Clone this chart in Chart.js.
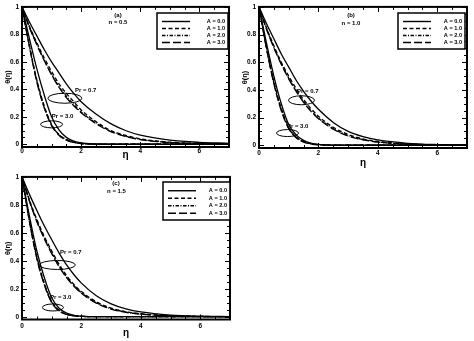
<!DOCTYPE html>
<html>
<head>
<meta charset="utf-8">
<script src="https://cdn.jsdelivr.net/npm/chart.js@4.4.1/dist/chart.umd.min.js"></script>
<style>
  html, body { margin: 0; padding: 0; background: #fff; }
  #page { position: relative; width: 474px; height: 341px; background: #fff; }
  .panel { position: absolute; width: 237px; height: 170px; }
</style>
</head>
<body>
<div id="page">
  <div class="panel" style="left:0;top:0"><canvas id="chartA"></canvas></div>
  <div class="panel" style="left:237px;top:0"><canvas id="chartB"></canvas></div>
  <div class="panel" style="left:0;top:170px;height:171px"><canvas id="chartC"></canvas></div>
</div>
<script>
// Abscisses communes (eta)
const etaValues = [0, 0.25, 0.5, 0.75, 1, 1.25, 1.5, 1.75, 2, 2.5, 3, 3.5, 4, 5, 6, 7];
const aLabels = ['A = 0.0', 'A = 1.0', 'A = 2.0', 'A = 3.0'];
const xTickValues = [0, 2, 4, 6];
const yTickValues = [0, 0.2, 0.4, 0.6, 0.8, 1];

// Profils de température theta(eta), une ligne par valeur de A
const thetaN05Pr07 = [
  [1, 0.89, 0.79, 0.69, 0.60, 0.52, 0.44, 0.37, 0.31, 0.22, 0.15, 0.10, 0.066, 0.03, 0.014, 0.007],
  [1, 0.86, 0.74, 0.63, 0.53, 0.44, 0.37, 0.31, 0.25, 0.165, 0.10, 0.065, 0.04, 0.015, 0.006, 0.002],
  [1, 0.855, 0.73, 0.615, 0.51, 0.42, 0.35, 0.29, 0.235, 0.155, 0.095, 0.06, 0.036, 0.013, 0.005, 0.002],
  [1, 0.85, 0.725, 0.61, 0.505, 0.415, 0.34, 0.28, 0.23, 0.15, 0.092, 0.057, 0.034, 0.012, 0.004, 0.001]
];
const thetaN05Pr3 = [
  [1, 0.77, 0.55, 0.36, 0.20, 0.105, 0.05, 0.022, 0.009, 0.002, 0, 0, 0, 0, 0, 0],
  [1, 0.72, 0.47, 0.28, 0.145, 0.072, 0.034, 0.015, 0.006, 0.001, 0, 0, 0, 0, 0, 0],
  [1, 0.715, 0.462, 0.272, 0.14, 0.069, 0.032, 0.014, 0.005, 0.001, 0, 0, 0, 0, 0, 0],
  [1, 0.71, 0.455, 0.267, 0.136, 0.066, 0.03, 0.013, 0.005, 0.001, 0, 0, 0, 0, 0, 0]
];
const thetaN10Pr07 = [
  [1, 0.88, 0.77, 0.66, 0.565, 0.47, 0.39, 0.32, 0.26, 0.165, 0.10, 0.062, 0.038, 0.014, 0.005, 0.002],
  [1, 0.85, 0.72, 0.60, 0.50, 0.41, 0.33, 0.265, 0.21, 0.13, 0.078, 0.046, 0.027, 0.009, 0.003, 0.001],
  [1, 0.845, 0.71, 0.59, 0.485, 0.395, 0.315, 0.25, 0.197, 0.12, 0.07, 0.041, 0.024, 0.008, 0.002, 0.001],
  [1, 0.84, 0.705, 0.585, 0.48, 0.39, 0.31, 0.245, 0.192, 0.116, 0.067, 0.039, 0.022, 0.007, 0.002, 0]
];
const thetaN10Pr3 = [
  [1, 0.74, 0.50, 0.30, 0.15, 0.075, 0.035, 0.015, 0.006, 0.001, 0, 0, 0, 0, 0, 0],
  [1, 0.71, 0.46, 0.265, 0.13, 0.06, 0.027, 0.011, 0.004, 0.001, 0, 0, 0, 0, 0, 0],
  [1, 0.705, 0.45, 0.257, 0.125, 0.057, 0.025, 0.01, 0.004, 0, 0, 0, 0, 0, 0, 0],
  [1, 0.70, 0.445, 0.25, 0.12, 0.054, 0.023, 0.009, 0.003, 0, 0, 0, 0, 0, 0, 0]
];
const thetaN15Pr07 = [
  [1, 0.875, 0.76, 0.65, 0.55, 0.455, 0.37, 0.30, 0.24, 0.15, 0.092, 0.056, 0.034, 0.012, 0.004, 0.001],
  [1, 0.835, 0.695, 0.575, 0.47, 0.375, 0.295, 0.23, 0.18, 0.107, 0.062, 0.036, 0.021, 0.007, 0.002, 0],
  [1, 0.83, 0.685, 0.565, 0.457, 0.363, 0.285, 0.222, 0.172, 0.10, 0.057, 0.033, 0.019, 0.006, 0.002, 0],
  [1, 0.825, 0.68, 0.558, 0.45, 0.357, 0.28, 0.217, 0.167, 0.097, 0.055, 0.031, 0.018, 0.005, 0.001, 0]
];
const thetaN15Pr3 = [
  [1, 0.72, 0.47, 0.28, 0.135, 0.06, 0.025, 0.01, 0.004, 0, 0, 0, 0, 0, 0, 0],
  [1, 0.69, 0.43, 0.24, 0.11, 0.046, 0.018, 0.007, 0.003, 0, 0, 0, 0, 0, 0, 0],
  [1, 0.685, 0.42, 0.233, 0.105, 0.043, 0.017, 0.006, 0.002, 0, 0, 0, 0, 0, 0, 0],
  [1, 0.68, 0.415, 0.228, 0.10, 0.041, 0.016, 0.006, 0.002, 0, 0, 0, 0, 0, 0, 0]
];

// Styles de trait : plein, tirets, tiret-point, tirets longs
const dashStyles = [[], [4, 2.5], [3.5, 1.5, 1, 1.5], [8, 3]];
const FONT = '"Liberation Sans", Arial, sans-serif';

const panels = [
  {
    id: 'chartA', tag: '(a)', nText: 'n = 0.5', pr07: thetaN05Pr07, pr3: thetaN05Pr3,
    area: { top: 5, right: 8, bottom: 147 }, canvasH: 170, tickPad: 0, titlePad: 9,
    tagPos: { x: 118, y: 15 }, nPos: { x: 118, y: 22.5 },
    legendBox: { x: 157, y: 13, w: 71, h: 36 },
    ring07: { x: 1.45, y: 0.335, rx: 17, ry: 5 }, text07: { x: 1.79, y: 0.39 },
    ring3: { x: 1.0, y: 0.145, rx: 11, ry: 3.5 }, text3: { x: 1.01, y: 0.205 }
  },
  {
    id: 'chartB', tag: '(b)', nText: 'n = 1.0', pr07: thetaN10Pr07, pr3: thetaN10Pr3,
    area: { top: 5, right: 7, bottom: 148 }, canvasH: 170, tickPad: 1, titlePad: 1,
    tagPos: { x: 114, y: 15 }, nPos: { x: 114, y: 23 },
    legendBox: { x: 161, y: 13, w: 67, h: 36 },
    ring07: { x: 1.43, y: 0.325, rx: 13, ry: 4.5 }, text07: { x: 1.28, y: 0.39 },
    ring3: { x: 0.96, y: 0.088, rx: 11, ry: 3.5 }, text3: { x: 0.94, y: 0.136 }
  },
  {
    id: 'chartC', tag: '(c)', nText: 'n = 1.5', pr07: thetaN15Pr07, pr3: thetaN15Pr3,
    area: { top: 5, right: 7, bottom: 149.5 }, canvasH: 171, tickPad: 3, titlePad: 2,
    tagPos: { x: 116, y: 13.5 }, nPos: { x: 116.5, y: 21.7 },
    legendBox: { x: 163, y: 12, w: 67, h: 38 },
    ring07: { x: 1.19, y: 0.37, rx: 18, ry: 4.5 }, text07: { x: 1.28, y: 0.46 },
    ring3: { x: 1.04, y: 0.066, rx: 10.5, ry: 3.5 }, text3: { x: 0.94, y: 0.137 }
  }
];

function toPoints(values) {
  return values.map((v, i) => ({ x: etaValues[i], y: v }));
}

function buildDatasets(panel) {
  const sets = [];
  [panel.pr07, panel.pr3].forEach((group, g) => {
    group.forEach((values, k) => {
      sets.push({
        label: aLabels[k] + (g === 0 ? ' (Pr = 0.7)' : ' (Pr = 3.0)'),
        data: toPoints(values),
        borderColor: '#000',
        borderWidth: 1.3,
        borderDash: dashStyles[k],
        pointRadius: 0,
        fill: false,
        cubicInterpolationMode: 'monotone'
      });
    });
  });
  return sets;
}

// Cadre, graduations internes, légende, ellipses et annotations
const decorPlugin = {
  id: 'decor',
  afterDatasetsDraw(chart, args, opts) {
    const p = opts.panel;
    const ctx = chart.ctx;
    const { left, right, top, bottom } = chart.chartArea;
    const xs = chart.scales.x, ys = chart.scales.y;
    ctx.save();
    ctx.strokeStyle = '#000';
    ctx.fillStyle = '#000';

    // graduations sur les quatre côtés
    ctx.lineWidth = 1;
    ctx.setLineDash([]);
    ctx.beginPath();
    for (let i = 0; i <= 14; i++) {
      const px = Math.round(xs.getPixelForValue(i * 0.5)) + 0.5;
      const len = (i % 4 === 0) ? 5 : 3;
      ctx.moveTo(px, bottom); ctx.lineTo(px, bottom - len);
      ctx.moveTo(px, top); ctx.lineTo(px, top + len);
    }
    for (let i = 0; i <= 20; i++) {
      const py = Math.round(ys.getPixelForValue(i * 0.05)) + 0.5;
      const len = (i % 4 === 0) ? 5 : 3;
      ctx.moveTo(left, py); ctx.lineTo(left + len, py);
      ctx.moveTo(right, py); ctx.lineTo(right - len, py);
    }
    ctx.stroke();

    // cadre
    ctx.lineWidth = 2;
    ctx.strokeRect(left, top, right - left, bottom - top);

    // titre du panneau
    ctx.font = 'bold 6px ' + FONT;
    ctx.textAlign = 'center';
    ctx.textBaseline = 'middle';
    ctx.fillText(p.tag, p.tagPos.x, p.tagPos.y);
    ctx.fillText(p.nText, p.nPos.x, p.nPos.y);

    // ellipses Pr
    ctx.lineWidth = 1;
    [p.ring07, p.ring3].forEach(r => {
      ctx.beginPath();
      ctx.ellipse(xs.getPixelForValue(r.x), ys.getPixelForValue(r.y), r.rx, r.ry, 0, 0, Math.PI * 2);
      ctx.stroke();
    });
    ctx.textAlign = 'left';
    ctx.fillText('Pr = 0.7', xs.getPixelForValue(p.text07.x), ys.getPixelForValue(p.text07.y));
    ctx.fillText('Pr = 3.0', xs.getPixelForValue(p.text3.x), ys.getPixelForValue(p.text3.y));

    // légende
    const b = p.legendBox;
    ctx.fillStyle = '#fff';
    ctx.fillRect(b.x, b.y, b.w, b.h);
    ctx.fillStyle = '#000';
    ctx.lineWidth = 1.5;
    ctx.strokeRect(b.x, b.y, b.w, b.h);
    const rowH = (b.h - 8) / 4;
    ctx.font = 'bold 5.6px ' + FONT;
    ctx.textAlign = 'right';
    aLabels.forEach((lab, k) => {
      const ds = chart.data.datasets[k];
      const y = b.y + 5 + rowH * (k + 0.5);
      ctx.beginPath();
      ctx.lineWidth = 1.4;
      ctx.setLineDash(ds.borderDash);
      ctx.moveTo(b.x + 5, y);
      ctx.lineTo(b.x + 33, y);
      ctx.stroke();
      ctx.setLineDash([]);
      ctx.fillText(lab, b.x + b.w - 3, y);
    });
    ctx.restore();
  }
};

panels.forEach(panel => {
  const ctx = document.getElementById(panel.id).getContext('2d');
  new Chart(ctx, {
    type: 'line',
    data: { datasets: buildDatasets(panel) },
    plugins: [decorPlugin],
    options: {
      responsive: true,
      maintainAspectRatio: false,
      animation: false,
      layout: { padding: { top: panel.area.top, right: panel.area.right, left: 0, bottom: 0 } },
      plugins: {
        legend: { display: false },
        tooltip: { enabled: false },
        decor: { panel: panel }
      },
      scales: {
        x: {
          type: 'linear',
          min: 0,
          max: 7,
          grid: { display: false, drawTicks: false },
          border: { display: false },
          afterBuildTicks: s => { s.ticks = xTickValues.map(v => ({ value: v })); },
          afterFit: s => { s.height = panel.canvasH - panel.area.bottom; },
          ticks: {
            padding: panel.tickPad,
            maxRotation: 0,
            color: '#000',
            font: { family: FONT, size: 6.5, weight: 'bold' },
            callback: v => String(v)
          },
          title: {
            display: true,
            text: 'η',
            color: '#000',
            font: { family: FONT, size: 10, weight: 'bold' },
            padding: { top: 0, bottom: panel.titlePad }
          }
        },
        y: {
          type: 'linear',
          min: -0.02,
          max: 1,
          grid: { display: false, drawTicks: false },
          border: { display: false },
          afterBuildTicks: s => { s.ticks = yTickValues.map(v => ({ value: v })); },
          afterFit: s => { s.width = 22; },
          ticks: {
            padding: 3,
            color: '#000',
            font: { family: FONT, size: 6.5, weight: 'bold' },
            callback: v => String(v)
          },
          title: {
            display: true,
            text: 'θ(η)',
            color: '#000',
            font: { family: FONT, size: 7.5, weight: 'bold' },
            padding: { top: 3.8, bottom: 0 }
          }
        }
      }
    }
  });
});
</script>
</body>
</html>
